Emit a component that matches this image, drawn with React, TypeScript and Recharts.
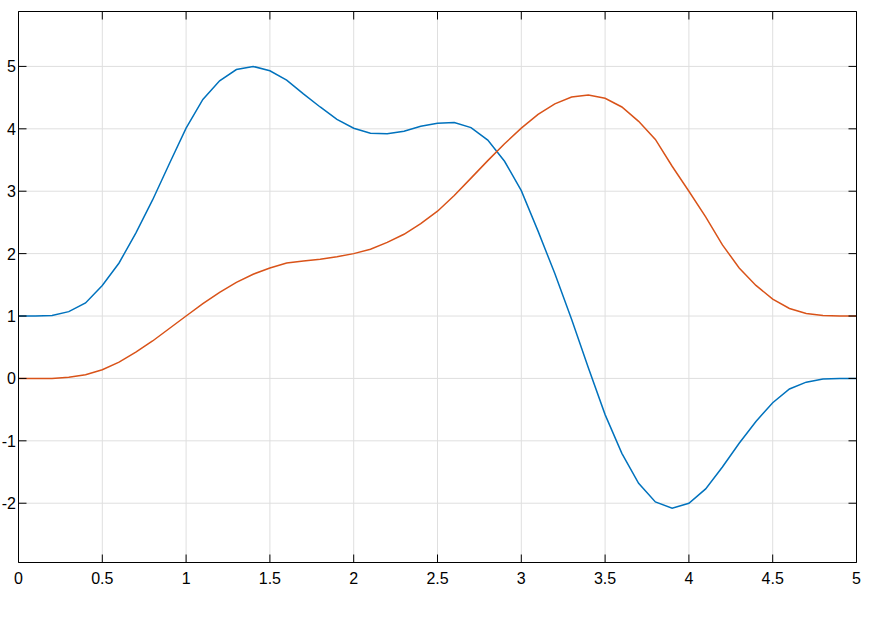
import React from 'react';
import {
  LineChart,
  Line,
  XAxis,
  YAxis,
  CartesianGrid,
  ReferenceLine,
} from 'recharts';

// sample positions (step 0.1)
const xValues = [
  0, 0.1, 0.2, 0.3, 0.4, 0.5, 0.6, 0.7, 0.8, 0.9,
  1, 1.1, 1.2, 1.3, 1.4, 1.5, 1.6, 1.7, 1.8, 1.9,
  2, 2.1, 2.2, 2.3, 2.4, 2.5, 2.6, 2.7, 2.8, 2.9,
  3, 3.1, 3.2, 3.3, 3.4, 3.5, 3.6, 3.7, 3.8, 3.9,
  4, 4.1, 4.2, 4.3, 4.4, 4.5, 4.6, 4.7, 4.8, 4.9, 5,
];

const blueValues = [
  1.0, 1.0, 1.01, 1.07, 1.21, 1.49, 1.85, 2.33, 2.86, 3.44,
  4.01, 4.47, 4.77, 4.95, 5.0, 4.93, 4.78, 4.56, 4.35, 4.15,
  4.01, 3.93, 3.92, 3.96, 4.04, 4.09, 4.1, 4.02, 3.82, 3.48,
  3.01, 2.36, 1.68, 0.95, 0.17, -0.58, -1.2, -1.68, -1.98, -2.08,
  -2.0, -1.77, -1.42, -1.04, -0.69, -0.39, -0.17, -0.06, -0.01, 0, 0,
];

const orangeValues = [
  0, 0, 0, 0.02, 0.06, 0.14, 0.26, 0.42, 0.6, 0.8,
  1.0, 1.2, 1.38, 1.54, 1.67, 1.77, 1.85, 1.88, 1.91, 1.95,
  2.0, 2.07, 2.18, 2.31, 2.48, 2.68, 2.93, 3.21, 3.49, 3.76,
  4.01, 4.23, 4.4, 4.51, 4.54, 4.49, 4.35, 4.12, 3.83, 3.4,
  3.0, 2.59, 2.14, 1.77, 1.49, 1.27, 1.12, 1.04, 1.01, 1.0, 1.0,
];

const xTicks = [0, 0.5, 1, 1.5, 2, 2.5, 3, 3.5, 4, 4.5, 5];
const yTicks = [-2, -1, 0, 1, 2, 3, 4, 5];

const data = xValues.map((x, i) => ({ x, a: blueValues[i], b: orangeValues[i] }));

const W = 875;
const H = 619;
// axes take 1px each (an axis of size 0 is not drawn); half pixels keep the frame crisp
const MARGIN = { top: 11.5, right: 18.5, bottom: 55.5, left: 17.5 };
const TICK = 8;
const FONT = '"Liberation Sans", Arial, Helvetica, sans-serif';

function XTick(props: any) {
  const { x, y, payload } = props;
  return (
    <g>
      <line x1={x} y1={y} x2={x} y2={y - TICK} stroke="#000" />
      <line x1={x} y1={MARGIN.top} x2={x} y2={MARGIN.top + TICK} stroke="#000" />
      <text x={x} y={y + 21} textAnchor="middle" fontSize={16} fontFamily={FONT} fill="#000">
        {payload.value}
      </text>
    </g>
  );
}

function YTick(props: any) {
  const { x, y, payload } = props;
  const right = W - MARGIN.right;
  return (
    <g>
      <line x1={x} y1={y} x2={x + TICK} y2={y} stroke="#000" />
      <line x1={right} y1={y} x2={right - TICK} y2={y} stroke="#000" />
      <text x={x - 2.5} y={y + 6} textAnchor="end" fontSize={16} fontFamily={FONT} fill="#000">
        {payload.value}
      </text>
    </g>
  );
}

export default function App() {
  return (
    <div style={{ position: 'absolute', left: 0, top: 0, background: '#fff' }}>
      <LineChart width={W} height={H} data={data} margin={MARGIN}>
        <CartesianGrid stroke="#dfdfdf" strokeWidth={1} />
        <Line
          dataKey="a"
          stroke="#0072BD"
          strokeWidth={1.5}
          dot={false}
          type="linear"
          isAnimationActive={false}
        />
        <Line
          dataKey="b"
          stroke="#D95319"
          strokeWidth={1.5}
          dot={false}
          type="linear"
          isAnimationActive={false}
        />
        <XAxis
          dataKey="x"
          type="number"
          domain={[0, 5]}
          ticks={xTicks}
          interval={0}
          height={1}
          tickSize={0}
          tickMargin={0}
          tickLine={false}
          axisLine={{ stroke: '#000' }}
          tick={<XTick />}
          allowDataOverflow
        />
        <YAxis
          type="number"
          domain={[-2.95, 5.88]}
          ticks={yTicks}
          interval={0}
          width={1}
          tickSize={0}
          tickMargin={0}
          tickLine={false}
          axisLine={{ stroke: '#000' }}
          tick={<YTick />}
          allowDataOverflow
        />
        <ReferenceLine y={5.88} stroke="#000" strokeOpacity={1} />
        <ReferenceLine x={5} stroke="#000" strokeOpacity={1} />
      </LineChart>
    </div>
  );
}
